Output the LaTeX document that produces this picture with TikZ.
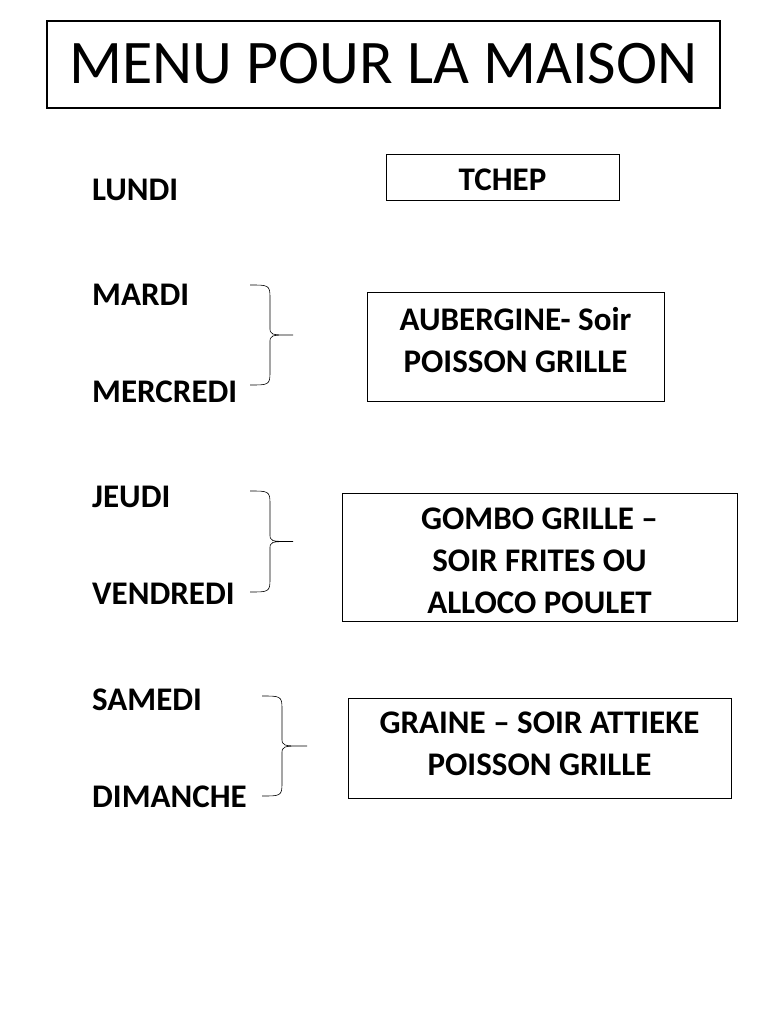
\documentclass[tikz,border=0pt]{standalone}
\usepackage{fontspec}
\setmainfont{Carlito}
\tikzset{%
  menubox/.style = {draw, line width=1pt, inner sep=0pt},%
  dish/.style    = {font=\fontsize{33}{42}\selectfont\bfseries, align=center},%
  day/.style     = {font=\fontsize{33}{40}\selectfont\bfseries, anchor=west, inner sep=0pt}%
}
\newcommand{\accolade}[4]{% x0, ytop, ybot, xtip
  \draw[line width=0.6pt] (#1,#2) .. controls (#1+18,#2) and (#1+20,#2) .. (#1+20,#2+12)
    -- (#1+20,{(#2+#3)/2-8}) .. controls (#1+20,{(#2+#3)/2}) .. (#4,{(#2+#3)/2})
    .. controls (#1+20,{(#2+#3)/2}) .. (#1+20,{(#2+#3)/2+8})
    -- (#1+20,#3-12) .. controls (#1+20,#3) and (#1+18,#3) .. (#1,#3);}
\begin{document}
\begin{tikzpicture}[x=1pt,y=-1pt]
  \useasboundingbox (0,0) rectangle (768,1024);
  % title
  \draw[line width=1.6pt] (47,21) rectangle (720,108);
  \node (title) at (383.5,64) {\fontsize{62}{66}\selectfont MENU POUR LA MAISON};
  % days
  \node[day] (lundi) at (92,190) {LUNDI};
  \node[day] (mardi) at (92,295) {MARDI};
  \node[day] (mercredi) at (92,392) {MERCREDI};
  \node[day] (jeudi) at (92,497) {JEUDI};
  \node[day] (vendredi) at (92,594) {VENDREDI};
  \node[day] (samedi) at (92,700) {SAMEDI};
  \node[day] (dimanche) at (92,797) {DIMANCHE};
  % dishes
  \draw[menubox] (386,155) rectangle (619,201);
  \node[dish] (tchep) at (502.5,180) {TCHEP};
  \draw[menubox] (367,292) rectangle (664,401);
  \node[dish] (aubergine) at (515.5,340) {AUBERGINE- Soir\\POISSON GRILLE};
  \draw[menubox] (342,493) rectangle (737,621);
  \node[dish] (gombo) at (539.5,561) {GOMBO GRILLE --\\SOIR FRITES OU\\ALLOCO POULET};
  \draw[menubox] (348,698) rectangle (731,798);
  \node[dish] (graine) at (539.5,744) {GRAINE -- SOIR ATTIEKE\\POISSON GRILLE};
  % braces
  \accolade{250}{285}{385}{293}
  \accolade{250}{491}{592}{293}
  \accolade{262}{696}{796}{307}
\end{tikzpicture}
\end{document}
